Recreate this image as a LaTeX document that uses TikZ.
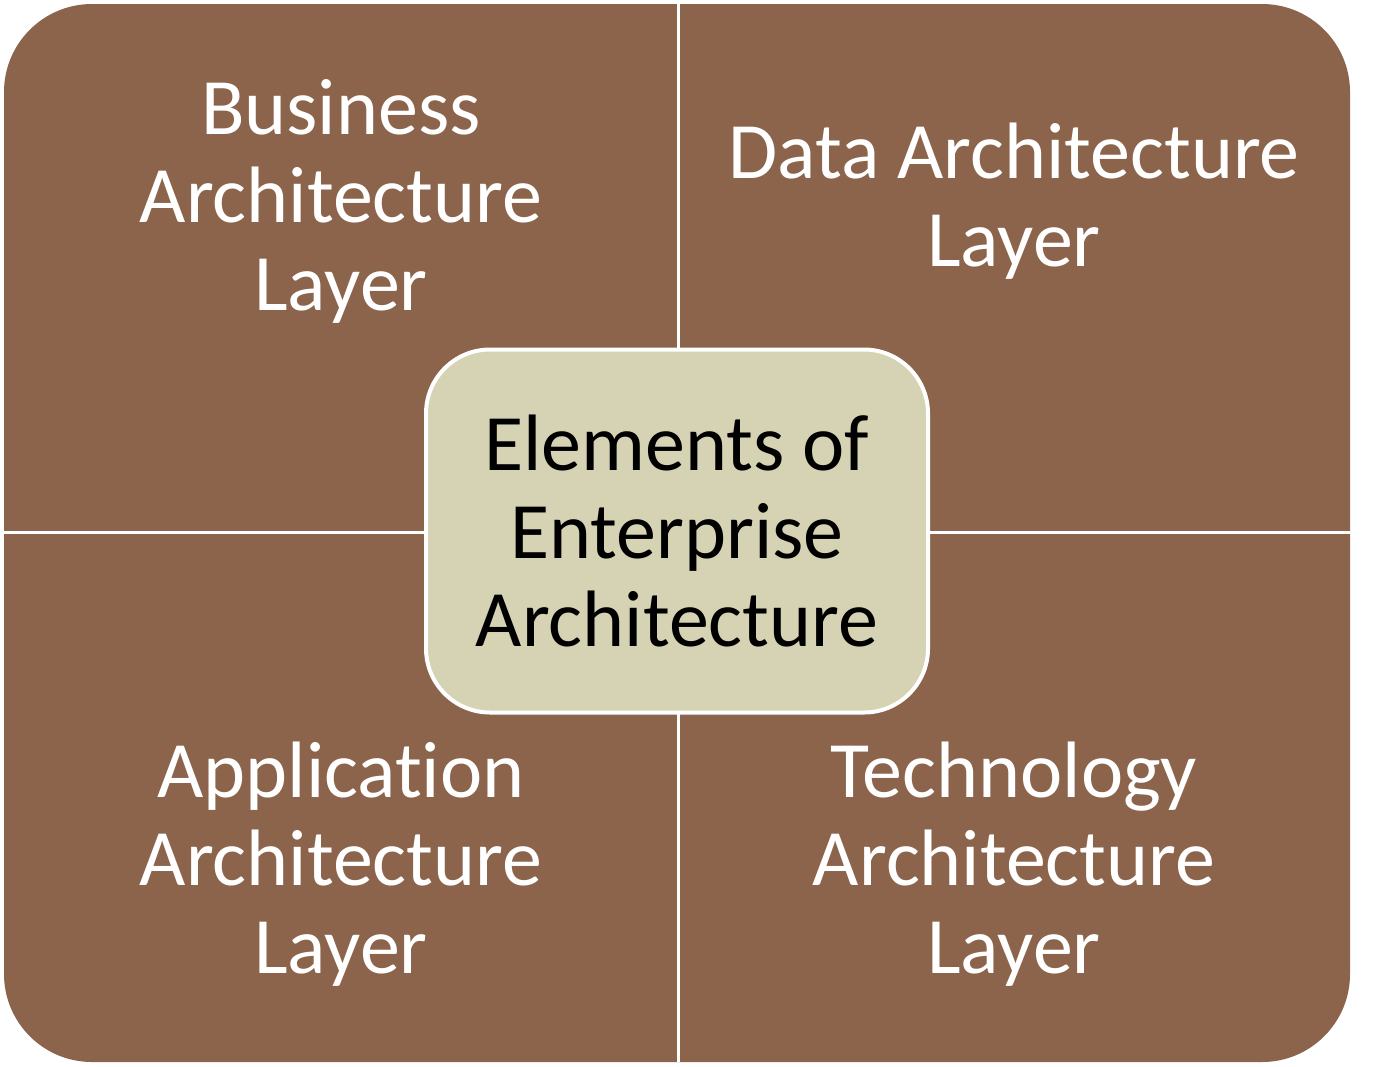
\documentclass[tikz,border=0pt]{standalone}
\usepackage{fontspec}
\setmainfont[Ligatures=NoCommon]{Carlito}
\definecolor{quadbrown}{RGB}{139,100,75}
\definecolor{titlesand}{RGB}{214,210,180}
\tikzset{
  layer/.style={text=white, align=center, font=\fontsize{40}{44}\selectfont},
  title/.style={draw=white, line width=2pt, fill=titlesand, rounded corners=32pt,
    minimum width=251pt, minimum height=181.5pt, align=center, text=black,
    font=\fontsize{40}{44}\selectfont},
}

\begin{document}
\begin{tikzpicture}[x=0.5pt, y=-0.5pt]

%% Page frame, one unit is one pixel
\useasboundingbox (0,0) rectangle (1374,1066);

%% Quadrants
\fill[quadbrown, rounded corners=44pt] (4,4) rectangle (1350,1062);
\draw[white, line width=1.5pt] (678,4)--(678,1062);
\draw[white, line width=1.5pt] (4,532)--(1350,532);

%% Layer labels
\node[layer] (business) at (341,201) {Business\\Architecture\\Layer};
\node[layer] (data) at (1014,201) {Data Architecture\\Layer};
\node[layer] (application) at (341,864) {Application\\Architecture\\Layer};
\node[layer] (technology) at (1014,864) {Technology\\Architecture\\Layer};

%% Title in the middle
\node[title] (elements) at (677,531) {Elements of\\Enterprise\\Architecture};

\end{tikzpicture}
\end{document}
